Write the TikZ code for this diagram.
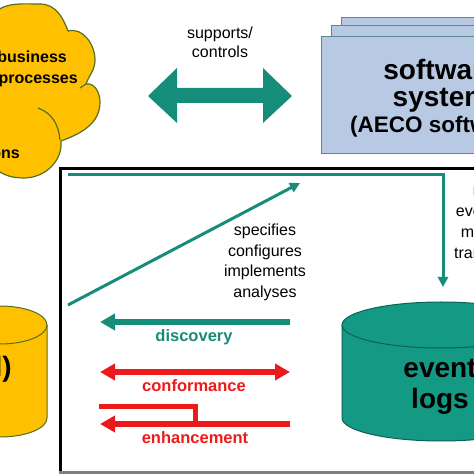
\documentclass[tikz,border=0pt]{standalone}
\usepackage{fontspec}
\setmainfont{Liberation Sans}
\usetikzlibrary{arrows.meta,positioning}

\definecolor{flowteal}{RGB}{22,140,122}
\definecolor{logteal}{RGB}{20,154,132}
\definecolor{logedge}{RGB}{12,96,84}
\definecolor{modelyellow}{RGB}{255,192,0}
\definecolor{cloudedge}{RGB}{84,112,32}
\definecolor{sysblue}{RGB}{184,201,228}
\definecolor{sysedge}{RGB}{88,138,138}
\definecolor{minered}{RGB}{236,26,26}

\begin{document}
\begin{tikzpicture}[x=1pt,y=1pt,
  bigtxt/.style={font=\fontsize{28}{30}\selectfont\bfseries, inner sep=0pt},
  plaintxt/.style={font=\fontsize{16}{20.5}\selectfont, inner sep=0pt},
  cloudtxt/.style={font=\fontsize{16}{20}\selectfont\bfseries, inner sep=0pt},
  minetxt/.style={font=\fontsize{16.5}{20}\selectfont\bfseries, inner sep=0pt},
  flow/.style={draw=flowteal, line width=3pt, -{Triangle[length=10pt,width=10pt]}},
  fat/.style={line width=6pt},
  fathead/.tip={Triangle[length=15pt,width=16pt]}]

  \useasboundingbox (0,0) rectangle (474,474);
  \clip (0,0) rectangle (474,474);

  % the world
  \filldraw[fill=modelyellow, draw=cloudedge, line width=1.2pt]
    (-10,455) to[out=60,in=180] (40,470) to[out=0,in=110] (68,443)
    to[out=15,in=90] (95,414) to[out=-90,in=70] (86,390)
    to[out=10,in=90] (100,372) to[out=-90,in=20] (61,333)
    to[out=-85,in=0] (24,296) to[out=180,in=-45] (-10,310)
    -- (-40,310) -- (-40,455) -- cycle;
  \draw[cloudedge, line width=1.2pt] (38,366) to[out=-20,in=95] (60,334);
  \draw[cloudedge, line width=1.2pt] (86,390) to[out=-150,in=30] (80,386);

  \node[cloudtxt, anchor=base east] (bus) at (67,411) {business};
  \node[cloudtxt, anchor=base east] (proc) at (78,390) {processes};
  \node[cloudtxt, anchor=base east] (org) at (20,315) {organizations};

  % supports / controls
  \fill[flowteal] (148,378) -- (177,406) -- (177,386) -- (263,386) -- (263,406)
    -- (292,378) -- (263,351) -- (263,371) -- (177,371) -- (177,351) -- cycle;
  \node[plaintxt, anchor=base] (sup) at (220,435.5) {supports/};
  \node[plaintxt, below=19.5pt of sup.base, anchor=base] (ctl) {controls};

  % software system
  \filldraw[fill=sysblue, draw=sysedge, line width=1pt] (341,456) rectangle (520,340);
  \filldraw[fill=sysblue, draw=sysedge, line width=1pt] (331,448) rectangle (510,330);
  \filldraw[fill=sysblue, draw=sysedge, line width=1pt] (321,437) rectangle (500,320);
  \node[bigtxt, anchor=base] (sw) at (441,394) {software};
  \node[bigtxt, below=27pt of sw.base, anchor=base] (sys) {system};
  \node[font=\fontsize{22.5}{24}\selectfont\bfseries, inner sep=0pt, anchor=base west]
    (aeco) at (350,341) {(AECO software)};

  % frame
  \draw[line width=3pt] (60,0) -- (60,305.5) -- (480,305.5);
  \draw[gray, line width=3pt] (58.5,1.5) -- (480,1.5);

  % process model
  \fill[modelyellow] (-47,149) -- (-47,56) arc[start angle=180,end angle=360,x radius=47,y radius=19] -- (47,149) -- cycle;
  \draw[cloudedge, line width=1pt] (-47,149) -- (-47,56) arc[start angle=180,end angle=360,x radius=47,y radius=19] -- (47,149);
  \filldraw[fill=modelyellow, draw=cloudedge, line width=1pt] (0,149) ellipse[x radius=47,y radius=19];
  \node[bigtxt, anchor=base east] (model) at (12,97) {(process model)};

  % event logs
  \fill[logteal] (342,149) -- (342,56) arc[start angle=180,end angle=360,x radius=99,y radius=23] -- (540,149) -- cycle;
  \draw[logedge, line width=1pt] (342,149) -- (342,56) arc[start angle=180,end angle=360,x radius=99,y radius=23] -- (540,149);
  \filldraw[fill=logteal, draw=logedge, line width=1pt] (441,149) ellipse[x radius=99,y radius=23];
  \node[bigtxt, anchor=base] (ev) at (440,96) {event};
  \node[bigtxt, below=31pt of ev.base, anchor=base] (logs) {logs};

  % connectors
  \coordinate (topstart) at (68,299);
  \coordinate (logtop) at (443,187);
  \coordinate (diagstart) at (68,169);
  \coordinate (diagend) at (300,291);
  \draw[flow] (topstart) -| (logtop);
  \draw[flow] (diagstart) -- (diagend);

  \node[plaintxt, anchor=base] (spec) at (265,238) {specifies};
  \node[plaintxt, below=20.5pt of spec.base, anchor=base] (conf) {configures};
  \node[plaintxt, below=20.5pt of conf.base, anchor=base] (impl) {implements};
  \node[plaintxt, below=20.5pt of impl.base, anchor=base] (anly) {analyses};

  \node[plaintxt, anchor=base] (rec) at (499.5,278) {records};
  \node[plaintxt, below=21pt of rec.base, anchor=base] (evts) {events, e.g.,};
  \node[plaintxt, below=21pt of evts.base, anchor=base] (msgs) {messages,};
  \node[plaintxt, below=21pt of msgs.base, anchor=base] (trans) {transactions,};
  \node[plaintxt, below=21pt of trans.base, anchor=base] (etc) {etc.};

  % discovery, conformance, enhancement
  \coordinate (d1) at (290,152);
  \coordinate (d2) at (100,152);
  \coordinate (c1) at (100,102);
  \coordinate (c2) at (290,102);
  \coordinate (e0) at (99,67);
  \coordinate (e1) at (290,50);
  \coordinate (e2) at (100,50);
  \draw[flowteal, fat, -fathead] (d1) -- (d2);
  \draw[minered, fat, fathead-fathead] (c1) -- (c2);
  \draw[minered, line width=5pt] (e0) -| (195,50);
  \draw[minered, fat, -fathead] (e1) -- (e2);

  \node[minetxt, text=flowteal, anchor=base] (disc) at (194,132) {discovery};
  \node[minetxt, text=minered, anchor=base] (cnf) at (194,82) {conformance};
  \node[minetxt, text=minered, anchor=base] (enh) at (195,30) {enhancement};

\end{tikzpicture}
\end{document}
